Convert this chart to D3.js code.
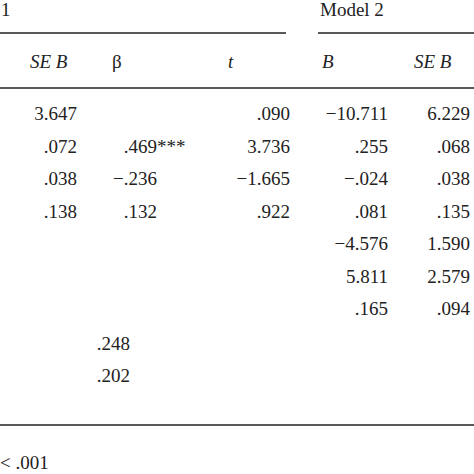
<!DOCTYPE html>
<html><head><meta charset="utf-8">
<script src="https://cdn.jsdelivr.net/npm/d3@7"></script>
<style>body{margin:0;background:#fff}text{font-family:"Liberation Serif","DejaVu Serif",serif;font-size:19px;fill:#222}</style>
</head><body><div id="chart"></div>
<script>
const seB1 = ["3.647", ".072", ".038", ".138", "", "", "", "", ""];
const beta = ["", ".469", "\u2212.236", ".132", "", "", "", "", ""];
const stars = ["", "***", "", "", "", "", "", "", ""];
const rsq = ["", "", "", "", "", "", "", ".248", ".202"];
const tVal = [".090", "3.736", "\u22121.665", ".922", "", "", "", "", ""];
const b2 = ["\u221210.711", ".255", "\u2212.024", ".081", "\u22124.576", "5.811", ".165", "", ""];
const seB2 = ["6.229", ".068", ".038", ".135", "1.590", "2.579", ".094", "", ""];

const W = 474, H = 474;
const svg = d3.select("#chart").append("svg").attr("width", W).attr("height", H);

const y = d3.scaleLinear().domain([0, 1]).range([120, 152.5]);

function line(x1, x2, yy, w) {
  svg.append("line").attr("x1", x1).attr("x2", x2).attr("y1", yy).attr("y2", yy)
    .attr("stroke", "#222").attr("stroke-width", w || 1.3);
}

// top spanners
svg.append("text").attr("x", 1).attr("y", 16).text("1");
svg.append("text").attr("x", 320).attr("y", 16).text("Model 2");
line(0, 286, 33); line(318, 474, 33);

// header
const hdr = [["SE B", 30, "start", true], ["\u03b2", 112, "start", false], ["t", 228, "start", true],
             ["B", 322, "start", true], ["SE B", 414, "start", true]];
hdr.forEach(h => svg.append("text").attr("x", h[1]).attr("y", 68).attr("text-anchor", h[2])
  .style("font-style", h[3] ? "italic" : "normal").text(h[0]));
line(0, 474, 88);

function col(vals, xr, anchor, dy) {
  svg.append("g").selectAll("text").data(vals).enter().append("text")
    .attr("x", xr).attr("y", (d, i) => y(i) + (i > 6 ? (dy || 0) : 0))
    .attr("text-anchor", anchor || "end").text(d => d);
}
col(seB1, 77);
col(beta, 157);
col(stars, 157, "start");
col(rsq, 130, "end", 2);
col(tVal, 290);
col(b2, 388);
col(seB2, 470);

line(0, 474, 425);
svg.append("text").attr("x", 0).attr("y", 469).text("< .001");
</script></body></html>
